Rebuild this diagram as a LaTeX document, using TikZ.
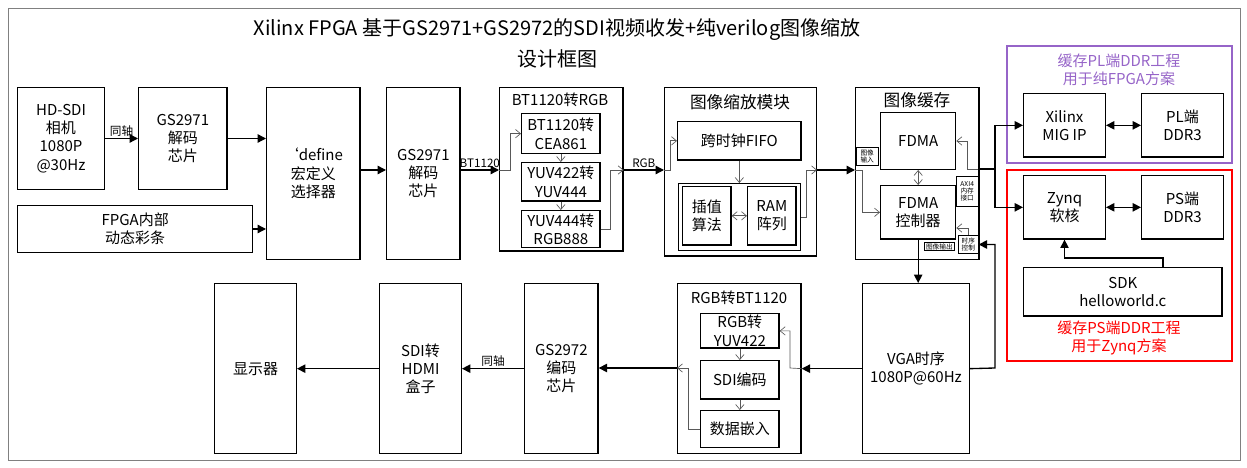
\documentclass[tikz,border=0pt]{standalone}
\usepackage{fontspec}
\setmainfont{Noto Sans CJK SC}
\usetikzlibrary{arrows.meta, calc, positioning}
\definecolor{purp}{RGB}{150,100,200}
\tikzset{
  blk/.style={draw, thick, align=center, inner sep=1pt, font=\small},
  tag/.style={draw, align=center, inner sep=0.5pt, font=\fontsize{4}{4.5}\selectfont, fill=white},
  arr/.style={-{Triangle[length=5pt,width=5pt]}, thick},
  darr/.style={{Triangle[length=5pt,width=5pt]}-{Triangle[length=5pt,width=5pt]}, thick},
  oarr/.style={-{Straight Barb[length=3pt,width=5pt]}, gray!70!black},
  lbl/.style={font=\scriptsize, inner sep=1pt}
}
\newcommand{\bx}[4]{\node[blk, minimum width=#3, minimum height=#4, anchor=north west] (#1) at #2 {};}
\begin{document}
\begin{tikzpicture}[x=0.6pt, y=-0.6pt]
\useasboundingbox (0,0) rectangle (1247,468);
\draw[gray] (8,8) rectangle (1240,460);
% title
\node[font=\large] (title) at (557,30) {Xilinx FPGA 基于GS2971+GS2972的SDI视频收发+纯verilog图像缩放};
\node[font=\large, below=-2pt of title] (title2) {设计框图};
% input side
\node[blk, minimum width=52pt, minimum height=61pt, anchor=north west] (cam) at (17,87) {HD-SDI\\相机\\1080P\\@30Hz};
\node[blk, minimum width=53pt, minimum height=61pt, anchor=north west] (dec1) at (138,87) {GS2971\\解码\\芯片};
\node[blk, minimum width=141pt, minimum height=28pt, anchor=north west] (bar) at (17,205) {FPGA内部\\动态彩条};
\node[blk, minimum width=56pt, minimum height=103pt, anchor=north west] (sel) at (266,87) {\char"0060define\\宏定义\\选择器};
\node[blk, minimum width=44pt, minimum height=103pt, anchor=north west] (dec2) at (386,87) {GS2971\\解码\\芯片};
% BT1120 to RGB
\bx{cvt}{(499,87)}{74pt}{98pt}
\node[font=\small] (cvtt) at (560,100) {BT1120转RGB};
\node[blk, minimum width=47pt, minimum height=24pt, anchor=north west] (c1) at (521,113) {BT1120转\\CEA861};
\node[blk, minimum width=47pt, minimum height=23pt, anchor=north west] (c2) at (521,162) {YUV422转\\YUV444};
\node[blk, minimum width=47pt, minimum height=22pt, anchor=north west] (c3) at (521,210) {YUV444转\\RGB888};
% scaler
\bx{scl}{(664,87)}{91pt}{101pt}
\node (sclt) at (740,102) {图像缩放模块};
\node[blk, minimum width=74pt, minimum height=23pt, anchor=north west] (fifo) at (677,121) {跨时钟FIFO};
\bx{grp}{(678,183)}{73pt}{40pt}
\node[blk, minimum width=29pt, minimum height=35pt, anchor=north west] (itp) at (682,186) {插值\\算法};
\node[blk, minimum width=29pt, minimum height=35pt, anchor=north west] (ram) at (747,186) {RAM\\阵列};
% buffer
\bx{buf}{(855,87)}{74pt}{103pt}
\node (buft) at (917,100) {图像缓存};
\node[blk, minimum width=45pt, minimum height=34pt, anchor=north west] (fdma) at (880,112) {FDMA};
\node[blk, minimum width=45pt, minimum height=32pt, anchor=north west] (ctl) at (880,185) {FDMA\\控制器};
\node[tag, minimum width=13pt, minimum height=11pt, anchor=north west] (tin) at (856,147) {图像\\输入};
\node[tag, minimum width=13pt, minimum height=18pt, anchor=north west] (taxi) at (956,176) {AXI4\\内存\\接口};
\node[tag, minimum width=12pt, minimum height=11pt, anchor=north west] (ttim) at (958,235) {时序\\控制};
\node[tag, minimum width=18pt, minimum height=5pt, anchor=north west] (tout) at (924,242) {图像输出};
% DDR options
\draw[purp, thick] (1007,46) rectangle (1232,163);
\node[purp, align=center, font=\small] (plt) at (1119,70) {缓存PL端DDR工程\\用于纯FPGA方案};
\node[blk, minimum width=49pt, minimum height=38pt, anchor=north west] (mig) at (1023,93) {Xilinx\\MIG IP};
\node[blk, minimum width=49pt, minimum height=38pt, anchor=north west] (pld) at (1141,93) {PL端\\DDR3};
\draw[red, thick] (1007,170) rectangle (1232,361);
\node[blk, minimum width=49pt, minimum height=38pt, anchor=north west] (zynq) at (1023,175) {Zynq\\软核};
\node[blk, minimum width=49pt, minimum height=38pt, anchor=north west] (psd) at (1141,175) {PS端\\DDR3};
\node[blk, minimum width=119pt, minimum height=29pt, anchor=north west] (sdk) at (1023,267) {SDK\\helloworld.c};
\node[red, align=center, font=\small] (pst) at (1119,338) {缓存PS端DDR工程\\用于Zynq方案};
% output side
\node[blk, minimum width=64pt, minimum height=102pt, anchor=north west] (vga) at (862,283) {VGA时序\\1080P@60Hz};
\bx{enc}{(677,283)}{74pt}{102pt}
\node[font=\small] (enct) at (739,298) {RGB转BT1120};
\node[blk, minimum width=47pt, minimum height=19pt, anchor=north west] (e1) at (700,313) {RGB转\\YUV422};
\node[blk, minimum width=47pt, minimum height=23pt, anchor=north west] (e2) at (700,360) {SDI编码};
\node[blk, minimum width=47pt, minimum height=22pt, anchor=north west] (e3) at (700,410) {数据嵌入};
\node[blk, minimum width=44pt, minimum height=102pt, anchor=north west] (gs72) at (524,283) {GS2972\\编码\\芯片};
\node[blk, minimum width=49pt, minimum height=102pt, anchor=north west] (box) at (379,283) {SDI转\\HDMI\\盒子};
\node[blk, minimum width=49pt, minimum height=102pt, anchor=north west] (disp) at (214,283) {显示器};
% input connectors
\draw[arr] (cam) -- node[lbl, above] {同轴} (dec1);
\draw[arr] (dec1.east) -- (dec1.east -| sel.west);
\draw[arr] (bar.east) -- (bar.east -| sel.west);
\draw[arr] (sel.east |- 0,170) -- (dec2.west |- 0,170);
\draw[arr] (dec2.east |- 0,170) -- node[lbl, above] {BT1120} (cvt.west |- 0,170);
\draw[oarr] (cvt.west |- 0,170) -- (510,170) |- (c1.west);
\draw[oarr] (c1) -- (c2);
\draw[oarr] (c2) -- (c3);
\draw[oarr] (c3.east) -| (610,170) -- (cvt.east |- 0,170);
\draw[arr] (cvt.east |- 0,170) -- node[lbl, above] {RGB} (scl.west |- 0,170);
\draw[oarr] (scl.west |- 0,170) -- (670,170) |- (fifo.west);
\draw[oarr] (fifo) -- (fifo |- grp.north);
\draw[{Straight Barb[length=3pt,width=5pt]}-{Straight Barb[length=3pt,width=5pt]}, gray!70!black] (itp) -- (ram);
\draw[oarr] (grp.east) -| (806,170) -- (scl.east |- 0,170);
\draw[arr] (scl.east |- 0,170) -- (buf.west |- 0,170);
\draw[oarr] (buf.west |- 0,170) -- (862,170) |- (ctl.west);
\draw[{Straight Barb[length=3pt,width=5pt]}-{Straight Barb[length=3pt,width=5pt]}, gray!70!black] (fdma) -- (ctl);
\coordinate (axi) at (978,169);
\draw[oarr] (axi) -- (967,169) |- (fdma.east);
\draw[oarr] (ttim.north) -- (ttim.north |- 0,228) -- (ctl.east |- 0,228);
\coordinate (split) at (995,169);
\draw[thick] (axi) -- (split);
\draw[arr] (split) |- (mig.west);
\draw[arr] (split) |- (zynq.west);
\draw[darr] (mig) -- (pld);
\draw[darr] (zynq) -- (psd);
\draw[arr] (sdk.north) ++(40,0) coordinate (sdkt) -- (sdkt |- 0,258) -| (zynq.south);
% output connectors
\draw[arr] (ctl.south) -- (ctl.south |- vga.north);
\draw[arr] (vga.east) -- (995,368) |- (ttim.east);
\draw[arr] (vga.west) -- (enc.east |- vga.west);
\draw[oarr] (enc.east |- vga.west) -- (790,368) |- (e1.east);
\draw[oarr] (e1) -- (e2);
\draw[oarr] (e2) -- (e3);
\draw[oarr] (e3.west) -| (688,368) -- (enc.west |- 0,368);
\draw[arr] (enc.west |- 0,368) -- (gs72.east |- 0,368);
\draw[arr] (gs72.west) -- node[lbl, above] {同轴} (box.east);
\draw[arr] (box.west) -- (disp.east);
\end{tikzpicture}
\end{document}
